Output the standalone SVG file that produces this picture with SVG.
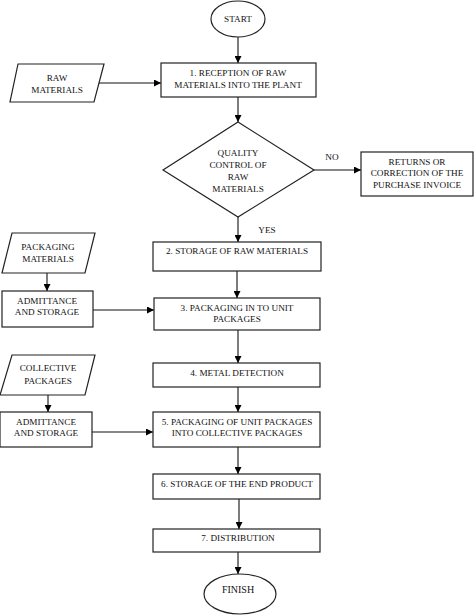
<svg xmlns="http://www.w3.org/2000/svg" width="474" height="615" viewBox="0 0 474 615">
<defs>
<marker id="ah" viewBox="0 0 10 10" refX="10" refY="5" markerWidth="7" markerHeight="7" markerUnits="userSpaceOnUse" orient="auto">
<path d="M0,0 L10,5 L0,10 z" fill="#000"/>
</marker>
<style>
.n{fill:#fff;stroke:#222;stroke-width:1.2}
.t{font-family:"Liberation Serif","Times New Roman",serif;font-size:9.2px;fill:#111;text-anchor:middle}
.c{stroke:#111;stroke-width:1.1;fill:none;marker-end:url(#ah)}
</style>
</defs>
<rect width="474" height="615" fill="#fff"/>
<g id="connectors">
<line class="c" x1="238" y1="37" x2="238" y2="63"/>
<line class="c" x1="94" y1="83" x2="161" y2="83"/>
<line class="c" x1="238" y1="97" x2="238" y2="122"/>
<line class="c" x1="314" y1="170" x2="361" y2="170"/>
<line class="c" x1="238" y1="217" x2="238" y2="242"/>
<line class="c" x1="237" y1="271" x2="237" y2="298"/>
<line class="c" x1="47" y1="273" x2="47" y2="291"/>
<line class="c" x1="93" y1="310" x2="154" y2="310"/>
<line class="c" x1="238" y1="330" x2="238" y2="363"/>
<line class="c" x1="48" y1="395" x2="48" y2="412"/>
<line class="c" x1="92" y1="432" x2="153" y2="432"/>
<line class="c" x1="238" y1="387" x2="238" y2="412"/>
<line class="c" x1="238" y1="447" x2="238" y2="474"/>
<line class="c" x1="239" y1="499" x2="239" y2="529"/>
<line class="c" x1="238" y1="552" x2="238" y2="574"/>
<text class="t" x="332" y="160">NO</text>
<text class="t" x="267" y="233">YES</text>
</g>
<g id="start">
<ellipse class="n" cx="238" cy="19" rx="27" ry="18"/>
<text class="t" x="238" y="22">START</text>
</g>
<g id="raw-materials">
<polygon class="n" points="18,64 104,64 94,102 10,102"/>
<text class="t" x="57" y="81">RAW</text>
<text class="t" x="57" y="93">MATERIALS</text>
</g>
<g id="step1">
<rect class="n" x="161" y="63" width="155" height="34"/>
<text class="t" x="238" y="76">1. RECEPTION OF RAW</text>
<text class="t" x="238" y="88">MATERIALS INTO THE PLANT</text>
</g>
<g id="quality">
<polygon class="n" points="238,122 314,170 238,217 163,170"/>
<text class="t" x="238" y="156">QUALITY</text>
<text class="t" x="238" y="168">CONTROL OF</text>
<text class="t" x="238" y="180">RAW</text>
<text class="t" x="238" y="192">MATERIALS</text>
</g>
<g id="returns">
<rect class="n" x="361" y="152" width="112" height="44"/>
<text class="t" x="417" y="165">RETURNS OR</text>
<text class="t" x="417" y="176">CORRECTION OF THE</text>
<text class="t" x="417" y="188">PURCHASE INVOICE</text>
</g>
<g id="step2">
<rect class="n" x="153" y="242" width="168" height="29"/>
<text class="t" x="237" y="254">2. STORAGE OF RAW MATERIALS</text>
</g>
<g id="packaging-materials">
<polygon class="n" points="12,233 95,233 85,273 2,273"/>
<text class="t" x="48" y="250">PACKAGING</text>
<text class="t" x="48" y="262">MATERIALS</text>
</g>
<g id="admittance1">
<rect class="n" x="2" y="291" width="91" height="36"/>
<text class="t" x="47" y="304">ADMITTANCE</text>
<text class="t" x="47" y="315">AND STORAGE</text>
</g>
<g id="step3">
<rect class="n" x="154" y="298" width="166" height="32"/>
<text class="t" x="237" y="311">3. PACKAGING IN TO UNIT</text>
<text class="t" x="237" y="322">PACKAGES</text>
</g>
<g id="step4">
<rect class="n" x="153" y="363" width="167" height="24"/>
<text class="t" x="237" y="376">4. METAL DETECTION</text>
</g>
<g id="collective-packages">
<polygon class="n" points="12,355 95,355 85,395 0,395"/>
<text class="t" x="48" y="371">COLLECTIVE</text>
<text class="t" x="48" y="384">PACKAGES</text>
</g>
<g id="admittance2">
<rect class="n" x="0" y="412" width="92" height="35"/>
<text class="t" x="46" y="425">ADMITTANCE</text>
<text class="t" x="46" y="436">AND STORAGE</text>
</g>
<g id="step5">
<rect class="n" x="153" y="412" width="167" height="35"/>
<text class="t" x="237" y="425">5. PACKAGING OF UNIT PACKAGES</text>
<text class="t" x="237" y="436">INTO COLLECTIVE PACKAGES</text>
</g>
<g id="step6">
<rect class="n" x="153" y="474" width="167" height="25"/>
<text class="t" x="237" y="487">6. STORAGE OF THE END PRODUCT</text>
</g>
<g id="step7">
<rect class="n" x="153" y="529" width="167" height="23"/>
<text class="t" x="238" y="541">7. DISTRIBUTION</text>
</g>
<g id="finish">
<ellipse class="n" cx="240" cy="594" rx="36" ry="20"/>
<text class="t" x="238" y="593" style="font-size:10px">FINISH</text>
</g>
</svg>
